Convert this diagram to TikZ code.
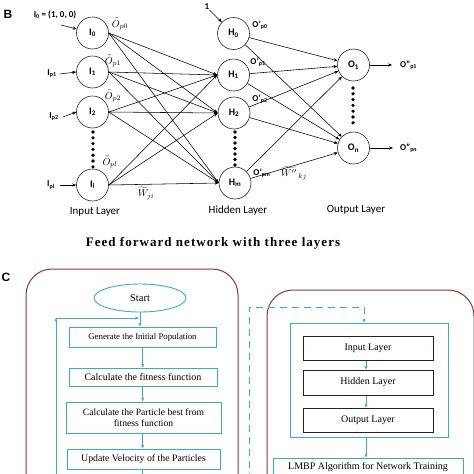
\documentclass[tikz,border=0pt]{standalone}
\usepackage{fontspec}
\setmainfont{Liberation Serif}
\setsansfont{Carlito}
\newfontfamily\arialfont{Liberation Sans}
\newfontfamily\titlefont[LetterSpace=8]{Liberation Serif}
\usetikzlibrary{arrows.meta,shapes.geometric}
\definecolor{tealc}{RGB}{64,168,198}
\definecolor{redc}{RGB}{140,58,58}
\definecolor{navyc}{RGB}{28,32,58}
\begin{document}
\begin{tikzpicture}[x=1pt,y=-1pt,
  neuron/.style={circle,draw=black!85,line width=0.6pt,minimum size=32pt,inner sep=0pt,
    font=\sffamily\bfseries\fontsize{10}{10}\selectfont},
  conn/.style={line width=0.55pt,-{Stealth[length=4pt,width=3.2pt]}},
  lbl/.style={font=\sffamily\bfseries\fontsize{9}{9}\selectfont,inner sep=0pt},
  wlbl/.style={font=\fontsize{10}{10}\selectfont,inner sep=0pt},
  layerlbl/.style={font=\sffamily\fontsize{11}{11}\selectfont,inner sep=0pt},
  panel/.style={font=\arialfont\bfseries\fontsize{12}{12}\selectfont,inner sep=0pt},
  fbox/.style={draw=tealc,line width=0.9pt,rectangle,inner sep=0pt,align=center},
  lbox/.style={draw=navyc,line width=1pt,rectangle,inner sep=0pt,minimum width=130pt,
    font=\fontsize{10}{10}\selectfont},
  tarr/.style={draw=tealc,line width=0.8pt,-{Stealth[length=4pt,width=3.2pt]}},
  redbox/.style={draw=redc,line width=1pt,rounded corners=26pt}
]
\useasboundingbox (0,0) rectangle (474,474);
\clip (0,0) rectangle (474,474);
\fill[white] (0,0) rectangle (474,474);

% ---------- panel B ----------
\node[panel] (B) at (8,14) {B};
\node[neuron] (I0) at (92.5,33) {I\textsubscript{0}};
\node[neuron] (I1) at (92.5,72) {I\textsubscript{1}};
\node[neuron] (I2) at (92.5,112) {I\textsubscript{2}};
\node[neuron] (Il) at (92.5,185) {I\textsubscript{l}};
\node[neuron] (H0) at (233.5,33.5) {H\textsubscript{0}};
\node[neuron] (H1) at (233.5,75) {H\textsubscript{1}};
\node[neuron] (H2) at (234,113) {H\textsubscript{2}};
\node[neuron] (Hm) at (235,183) {H\textsubscript{m}};
\node[neuron] (O1) at (353.5,65) {O\textsubscript{1}};
\node[neuron] (On) at (353.5,148) {O\textsubscript{n}};

\foreach \k in {0,...,6} {
  \fill (93,132+5.8*\k) circle (1.8pt);
  \fill (235,132+5.5*\k) circle (1.8pt);
}
\foreach \k in {0,...,6} \fill (353,88+5.8*\k) circle (1.8pt);

\foreach \i in {I0,I1,I2,Il}
  \foreach \h in {H1,H2,Hm}
    \draw[conn] (\i.east) -- (\h.west);
\foreach \h in {H0,H1,H2,Hm}
  \foreach \o in {O1,On}
    \draw[conn] (\h) -- (\o);

% inputs
\node[lbl] (L0) at (55,15) {I\textsubscript{0} = (1, 0, 0)};
\coordinate (in0) at (61,25);
\draw[conn] (in0) -- (I0);
\node[lbl] (Lp1) at (52,74) {I\textsubscript{p1}};
\node[lbl] (Lp2) at (54,117) {I\textsubscript{p2}};
\node[lbl] (Lpl) at (51,185) {I\textsubscript{pl}};
\draw[conn] ([xshift=3pt]Lp1.east) -- (I1.west);
\draw[conn] ([xshift=4pt]Lp2.east) -- (I2.west);
\draw[conn] ([xshift=5pt]Lpl.east) -- (Il.west);
\node[lbl] (one) at (207,7) {1};
\draw[conn] (one.south east) -- (H0);

% outputs
\node[lbl,anchor=west] (Y1) at (400,65) {O''\textsubscript{p1}};
\node[lbl,anchor=west] (Yn) at (400,148) {O''\textsubscript{pn}};
\draw[conn] (O1.east) -- ([xshift=-8pt]Y1.west);
\draw[conn] (On.east) -- ([xshift=-7pt]Yn.west);

% weight labels
\node[wlbl] (w0) at (120,24) {$\tilde{O}_{p0}$};
\node[wlbl] (w1) at (113,61) {$\tilde{O}_{p1}$};
\node[wlbl] (w2) at (113,96) {$\tilde{O}_{p2}$};
\node[wlbl] (wl) at (110,162) {$\tilde{O}_{pl}$};
\node[wlbl] (wji) at (146,193) {$\widetilde{W}_{ji}$};
\node[lbl] (h0) at (260,25) {O'\textsubscript{p0}};
\node[lbl] (h1) at (258,62) {O'\textsubscript{p1}};
\node[lbl] (h2) at (260,99) {O'\textsubscript{p2}};
\node[lbl] (hm) at (262,173) {O'\textsubscript{pm}};
\node[wlbl] (wkj) at (294,173) {$\widetilde{W''}\,{}_{kj}$};

\node[layerlbl] (LI) at (95,212) {Input Layer};
\node[layerlbl] (LH) at (238,211) {Hidden Layer};
\node[layerlbl] (LO) at (356,210) {Output Layer};

\node[font=\titlefont\bfseries\fontsize{13}{13}\selectfont,inner sep=0pt] (title) at (213,243)
  {Feed forward network with three layers};

% ---------- panel C ----------
\node[panel] (C) at (6,277) {C};
\draw[redbox] (26,520) -- (26,269) -- (238,269) -- (238,520);
\draw[redbox] (267,520) -- (267,290) -- (474,290) -- (474,520);

\node[ellipse,draw=tealc,line width=0.9pt,minimum width=92pt,minimum height=28pt,inner sep=0pt,
  font=\fontsize{10.5}{10.5}\selectfont] (Start) at (140,298) {Start};
\node[fbox,minimum width=147pt,minimum height=20pt,font=\fontsize{8.8}{8.8}\selectfont]
  (Gen) at (142.5,337) {Generate the Initial Population};
\node[fbox,minimum width=148pt,minimum height=18pt,font=\fontsize{10}{10}\selectfont]
  (Fit) at (143,377) {Calculate the fitness function};
\node[fbox,minimum width=155pt,minimum height=31pt,font=\fontsize{9.6}{11.5}\selectfont]
  (Best) at (143.5,417.5) {Calculate the Particle best from\\fitness function};
\node[fbox,minimum width=153pt,minimum height=20pt,font=\fontsize{9.8}{9.8}\selectfont]
  (Upd) at (143.5,459) {Update Velocity of the Particles};

\draw[tarr] (Start.south) -- (Start.south |- Gen.north);
\draw[tarr] (Gen.south -| 142.7,0) -- (Fit.north -| 142.7,0);
\draw[tarr] (Fit.south -| 142.7,0) -- (Best.north -| 142.7,0);
\draw[tarr] (Best.south -| 142.7,0) -- (Upd.north -| 142.7,0);
\coordinate (updB) at (142.7,480);
\draw[draw=tealc,line width=0.8pt] (Upd.south -| updB) -- (updB);
\coordinate (fbB) at (56,480);
\coordinate (fbT) at (56,318);
\coordinate (fbJ) at (139,318);
\draw[tarr] (fbB) -- (fbT);
\draw[tarr] (fbT) -- (fbJ);

% right side
\node[draw=tealc,line width=0.9pt,rectangle,minimum width=158pt,minimum height=114pt,inner sep=0pt]
  (Inner) at (369,380) {};
\node[lbox,minimum height=24pt] (LIn) at (368,348) {Input Layer};
\node[lbox,minimum height=25pt] (LHid) at (368,382.5) {Hidden Layer};
\node[lbox,minimum height=24pt] (LOut) at (368,420) {Output Layer};
\draw[tarr] (LIn.south -| 366,0) -- (LHid.north -| 366,0);
\draw[tarr] (LHid.south -| 366,0) -- (LOut.north -| 366,0);
\node[fbox,minimum width=190pt,minimum height=18pt,font=\fontsize{10}{10}\selectfont]
  (LMBP) at (368,467) {LMBP Algorithm for Network Training};
\draw[tarr] (Inner.south -| 366,0) -- (LMBP.north -| 366,0);

\coordinate (dB) at (249,480);
\coordinate (dT) at (249,307);
\coordinate (dR) at (364,307);
\draw[tarr,dash pattern=on 7pt off 5pt] (dB) -- (dT) -- (dR) -- (dR |- Inner.north);
\end{tikzpicture}
\end{document}
